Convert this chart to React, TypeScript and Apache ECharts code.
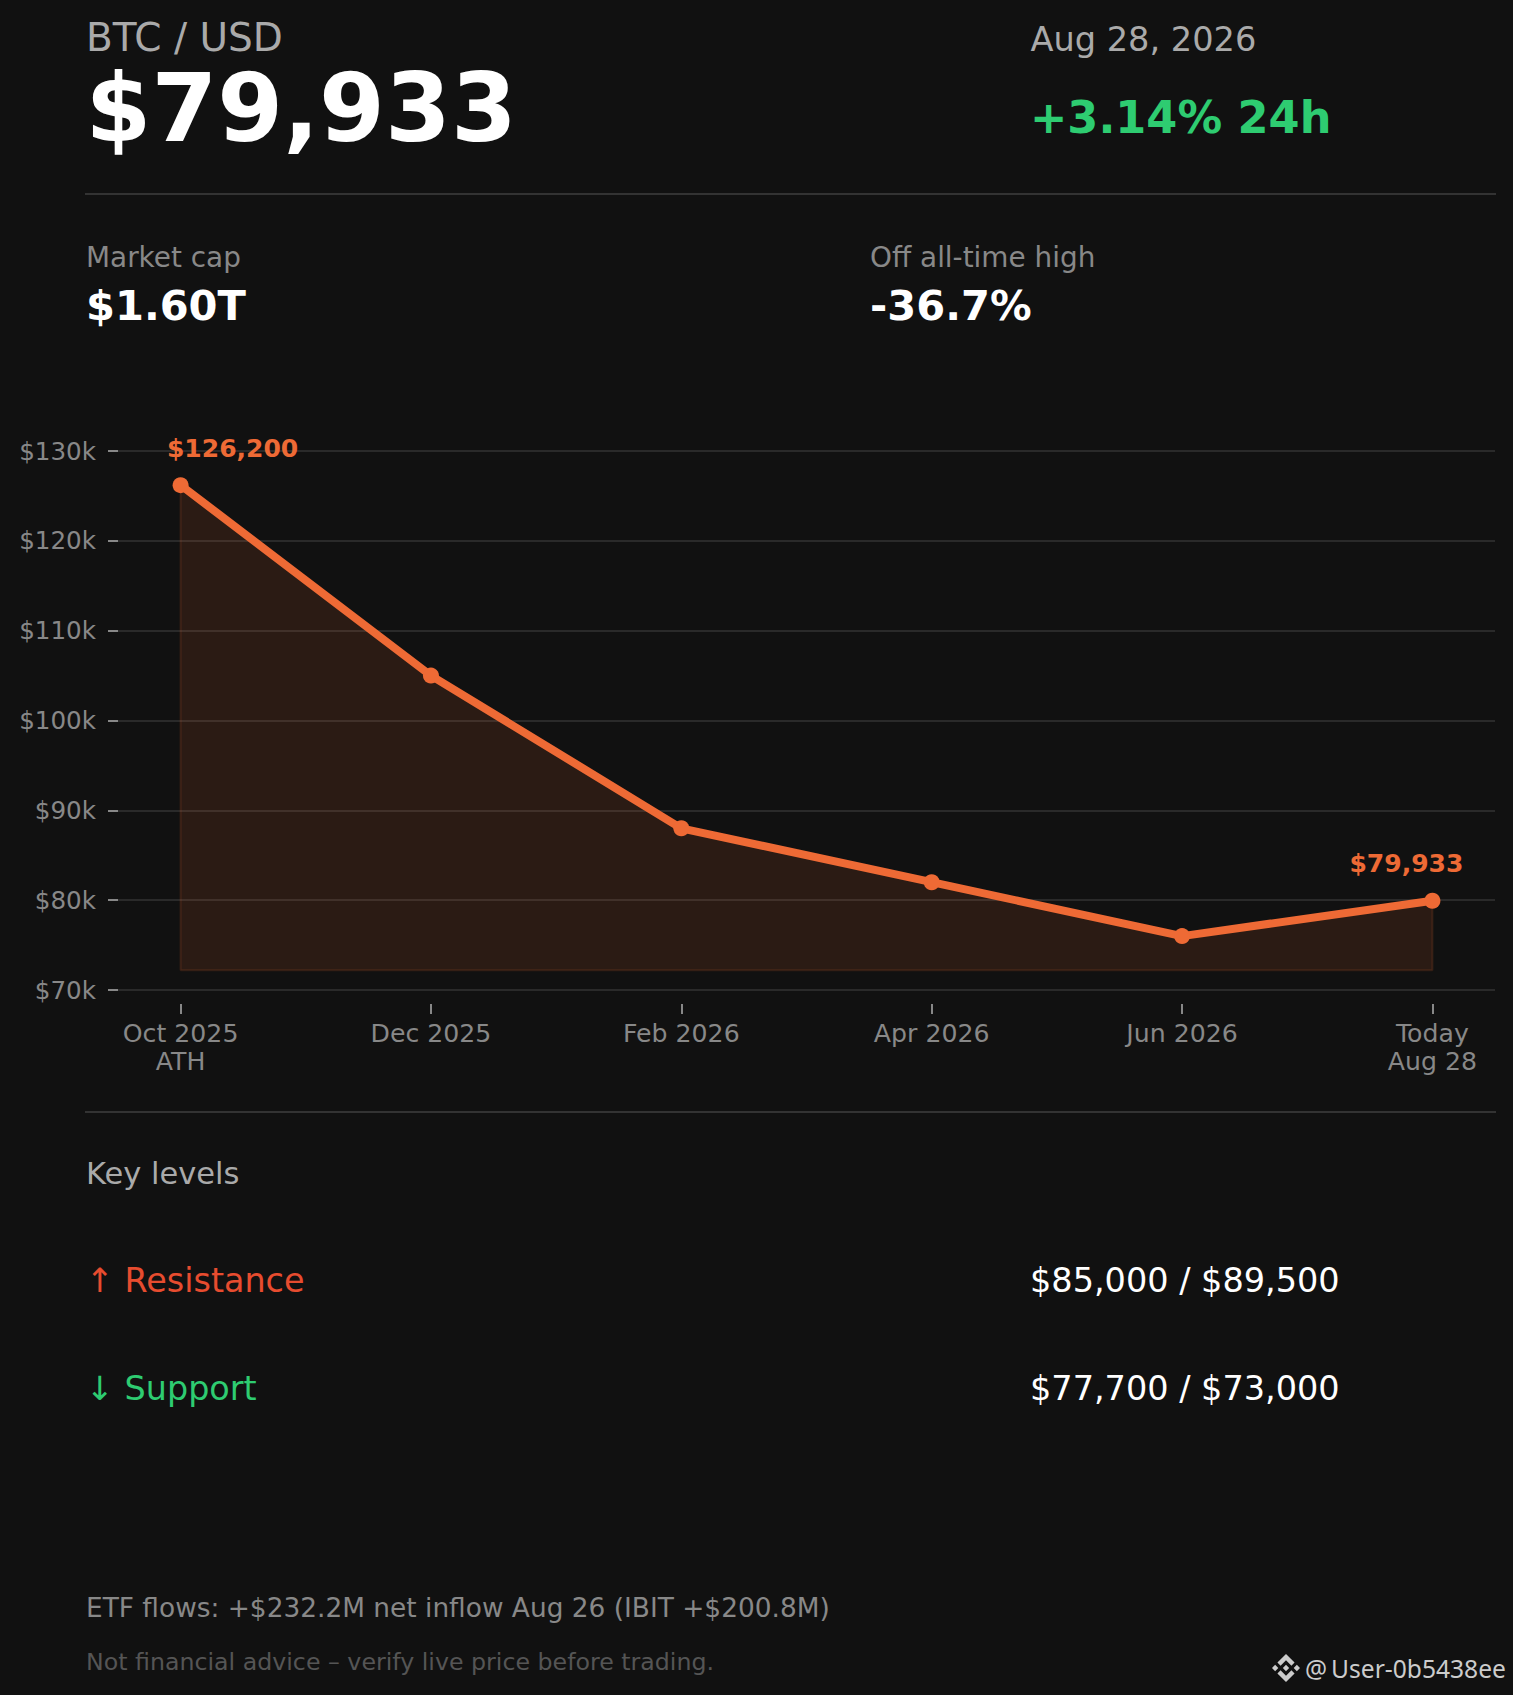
import React, { useEffect, useRef } from "react";
import * as echarts from "echarts";

const xTickLabels = ["Oct 2025\nATH", "Dec 2025", "Feb 2026", "Apr 2026", "Jun 2026", "Today\nAug 28"];
const xPositions = [0, 1, 2, 3, 4, 5];
const prices = [126200, 105000, 88000, 82000, 76000, 79933];
const pointLabels = ["$126,200", "", "", "", "", "$79,933"];
const areaBase = 72200;
const yTicks = { min: 70000, max: 130000, step: 10000 };

const FONT = "DejaVu Sans";
const BG = "#111111";
const ORANGE = "#EE6A35";
const GREEN = "#2ECC71";
const RED = "#E74C2F";

const logoPath =
  "M9.8 13.4L16 7.2L22.2 13.4L25.8 9.8L16 0L6.2 9.8ZM9.8 18.6L16 24.8L22.2 18.6L25.8 22.2L16 32L6.2 22.2ZM0 16L3.6 12.4L7.2 16L3.6 19.6ZM24.8 16L28.4 12.4L32 16L28.4 19.6ZM12.4 16L16 12.4L19.6 16L16 19.6Z";
echarts.graphic.registerShape("logo", echarts.graphic.extendPath(logoPath as any, {}) as any);

const txt = (
  text: string,
  x: number,
  baseline: number,
  size: number,
  fill: string,
  bold = false,
  family = FONT
) => ({
  type: "text",
  x,
  y: baseline - size * 0.365,
  silent: true,
  style: {
    text,
    fontFamily: family,
    fontSize: size,
    fontWeight: bold ? "bold" : "normal",
    fill,
    align: "left",
    verticalAlign: "middle",
  },
});

const divider = (y: number) => ({
  type: "line",
  silent: true,
  shape: { x1: 85, y1: y, x2: 1496, y2: y },
  style: { stroke: "#333333", lineWidth: 2 },
});

export default function App() {
  const ref = useRef<HTMLDivElement>(null);
  useEffect(() => {
    document.body.style.margin = "0";
    document.body.style.background = BG;
    const chart = echarts.init(ref.current!, undefined, { renderer: "svg" });
    const line = xPositions.map((x, i) => [x, prices[i]]);
    const outline = [
      ...line,
      [xPositions[xPositions.length - 1], areaBase],
      [xPositions[0], areaBase],
      line[0],
    ];
    chart.setOption({
      animation: false,
      backgroundColor: BG,
      grid: { left: 118, top: 451, width: 1377, height: 539, containLabel: false },
      xAxis: {
        type: "value",
        min: -0.25,
        max: 5.25,
        offset: 14,
        axisLine: { show: false, onZero: false },
        splitLine: { show: false },
        axisTick: {
          show: true,
          length: 10,
          customValues: xPositions,
          lineStyle: { color: "#888888", width: 2 },
        },
        axisLabel: {
          customValues: xPositions,
          formatter: (v: number) => xTickLabels[Math.round(v)],
          color: "#888888",
          fontFamily: FONT,
          fontSize: 25.2,
          lineHeight: 28,
          margin: 15,
          hideOverlap: false,
        },
      },
      yAxis: {
        type: "value",
        min: yTicks.min,
        max: yTicks.max,
        interval: yTicks.step,
        axisLine: { show: false, onZero: false },
        axisTick: { show: true, length: 10, lineStyle: { color: "#888888", width: 2 } },
        splitLine: { show: true, lineStyle: { color: "#2A2A2A", width: 2 } },
        axisLabel: {
          formatter: (v: number) => `$${v / 1000}k`,
          color: "#888888",
          fontFamily: FONT,
          fontSize: 24.6,
          margin: 22,
        },
      },
      series: [
        {
          type: "line",
          data: line,
          showSymbol: false,
          symbol: "none",
          lineStyle: { width: 0, opacity: 0 },
          areaStyle: { color: ORANGE, opacity: 0.12, origin: areaBase },
          z: 1,
          silent: true,
        },
        {
          type: "line",
          data: outline,
          symbol: "none",
          lineStyle: { color: "rgba(238,106,53,0.14)", width: 2 },
          z: 2,
          silent: true,
        },
        {
          type: "line",
          data: line.map((d, i) => ({
            value: d,
            label: pointLabels[i]
              ? {
                  show: true,
                  formatter: pointLabels[i],
                  position: "top",
                  offset: i === 0 ? [52, -11] : [-26, -12],
                  color: ORANGE,
                  fontFamily: FONT,
                  fontWeight: "bold",
                  fontSize: 25,
                }
              : { show: false },
          })),
          symbol: "circle",
          symbolSize: 16,
          showSymbol: true,
          itemStyle: { color: ORANGE },
          lineStyle: { color: ORANGE, width: 8 },
          z: 3,
          silent: true,
        },
      ],
      graphic: [
        txt("BTC / USD", 86, 52, 39, "#AAAAAA"),
        txt("$79,933", 85.5, 143, 94.7, "#FFFFFF", true),
        txt("Aug 28, 2026", 1030.5, 52, 33.6, "#AAAAAA"),
        txt("+3.14% 24h", 1030, 134, 44.6, GREEN, true),
        divider(194),
        txt("Market cap", 86, 267.5, 27.9, "#888888"),
        txt("$1.60T", 86, 321, 41.6, "#FFFFFF", true),
        txt("Off all-time high", 870, 267.5, 27.9, "#888888"),
        txt("-36.7%", 870, 321, 41.6, "#FFFFFF", true),
        divider(1112),
        txt("Key levels", 86, 1185, 30.5, "#AAAAAA"),
        txt("↑ Resistance", 86, 1293, 33.4, RED),
        txt("$85,000 / $89,500", 1030, 1293, 33.5, "#FFFFFF"),
        txt("↓ Support", 86, 1401, 33.4, GREEN),
        txt("$77,700 / $73,000", 1030, 1401, 33.5, "#FFFFFF"),
        txt("ETF flows: +$232.2M net inflow Aug 26 (IBIT +$200.8M)", 86, 1617, 26.4, "#888888"),
        txt("Not financial advice – verify live price before trading.", 86, 1671, 23.7, "#555555"),
        {
          type: "logo",
          x: 1272,
          y: 1654,
          scaleX: 0.875,
          scaleY: 0.875,
          silent: true,
          style: { fill: "#CCCCCC" },
        },
        txt("@", 1305, 1677, 24.6, "#CCCCCC", false, "Noto Sans"),
        txt("User-0b5438ee", 1331, 1677, 24.6, "#CCCCCC", false, "Noto Sans"),
      ],
    });
    return () => chart.dispose();
  }, []);
  return <div ref={ref} style={{ width: 1513, height: 1695 }} />;
}
